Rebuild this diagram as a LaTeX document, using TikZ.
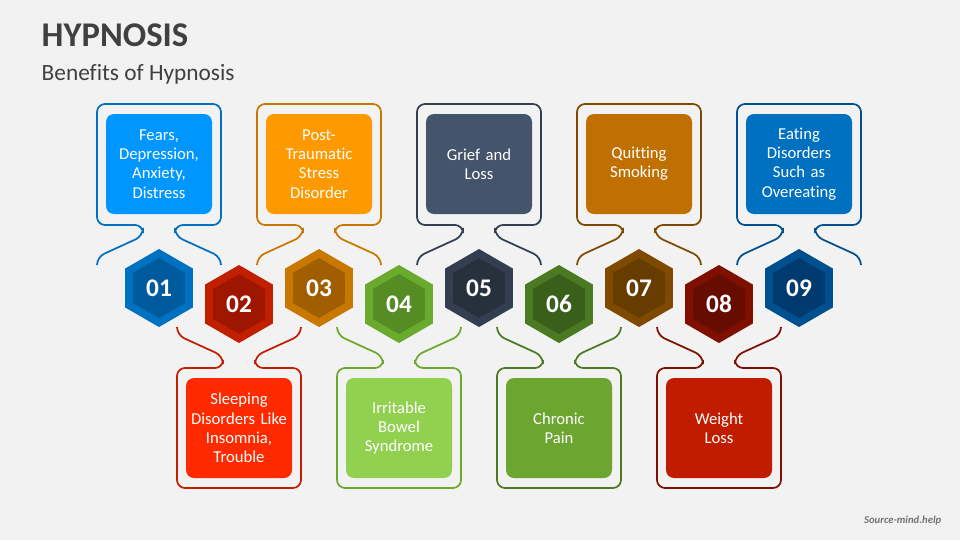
\documentclass[tikz,border=0pt]{standalone}
\usepackage{fontspec}
\setmainfont{Carlito}[Ligatures={NoCommon}]
\usetikzlibrary{shapes.geometric}
\definecolor{bg}{HTML}{F2F2F2}
\definecolor{o1}{HTML}{0070C0}\definecolor{i1}{HTML}{005A9E}\definecolor{b1}{HTML}{0096FF}
\definecolor{o2}{HTML}{C21E00}\definecolor{i2}{HTML}{9E1600}\definecolor{b2}{HTML}{FF2A00}
\definecolor{o3}{HTML}{C87800}\definecolor{i3}{HTML}{A05E00}\definecolor{b3}{HTML}{FF9900}
\definecolor{o4}{HTML}{6AAB2E}\definecolor{i4}{HTML}{558C24}\definecolor{b4}{HTML}{92D050}
\definecolor{o5}{HTML}{333F50}\definecolor{i5}{HTML}{27303D}\definecolor{b5}{HTML}{44546A}
\definecolor{o6}{HTML}{4B7A22}\definecolor{i6}{HTML}{3A5F1A}\definecolor{b6}{HTML}{6CA630}
\definecolor{o7}{HTML}{7F4A00}\definecolor{i7}{HTML}{663C00}\definecolor{b7}{HTML}{C07000}
\definecolor{o8}{HTML}{7F1000}\definecolor{i8}{HTML}{660C00}\definecolor{b8}{HTML}{C01C00}
\definecolor{o9}{HTML}{005090}\definecolor{i9}{HTML}{003A6E}\definecolor{b9}{HTML}{0070C0}
\tikzset{
 hexo/.style={regular polygon,regular polygon sides=6,shape border rotate=30,minimum size=58.5pt,inner sep=0pt},
 hexi/.style={regular polygon,regular polygon sides=6,shape border rotate=30,minimum size=45pt,inner sep=0pt,text=white,font=\bfseries\fontsize{19}{19}\selectfont},
 boxs/.style={rounded corners=6pt,minimum width=79.5pt,minimum height=75pt,text width=76pt,align=center,text=white,font=\fontsize{12.5}{14.5}\selectfont,inner sep=0pt},
 outl/.style={line width=1.3pt,rounded corners=6pt}
}
\begin{document}
\begin{tikzpicture}[x=0.75pt,y=-0.75pt]
\fill[bg] (0,0) rectangle (960,540);
\useasboundingbox (0,0) rectangle (960,540);
\node[anchor=west,text=black!75,font=\bfseries\fontsize{26}{26}\selectfont] (title) at (37,35) {HYPNOSIS};
\node[anchor=west,text=black!75,font=\fontsize{17.5}{17.5}\selectfont] (sub) at (37,74) {Benefits of Hypnosis};
\node[anchor=east,text=black!55,font=\bfseries\itshape\fontsize{8}{8}\selectfont] (src) at (946,521) {Source-mind.help};
\foreach \i/\t in {1/{Fears,\\Depression,\\Anxiety,\\Distress},3/{Post-\\Traumatic\\Stress\\Disorder},5/{Grief and\\Loss},7/{Quitting\\Smoking},9/{Eating\\Disorders\\Such as\\Overeating}}{
 \pgfmathsetmacro{\cx}{159+80*(\i-1)}
 \draw[outl,draw=o\i] (\cx-62,265) -- (\cx-62,257) -- (\cx-16,236) -- (\cx-16,225) -- (\cx-62,225) -- (\cx-62,104) -- (\cx+62,104) -- (\cx+62,225) -- (\cx+16,225) -- (\cx+16,236) -- (\cx+62,257) -- (\cx+62,265);
 \node[boxs,fill=b\i] (box\i) at (\cx,164) {\t};
 \node[hexo,fill=o\i] (ho\i) at (\cx,288) {};
 \node[hexi,fill=i\i] (hi\i) at (\cx,288) {0\i};
}
\foreach \i/\t in {2/{Sleeping\\Disorders Like\\Insomnia,\\Trouble},4/{Irritable\\Bowel\\Syndrome},6/{Chronic\\Pain},8/{Weight\\Loss}}{
 \pgfmathsetmacro{\cx}{159+80*(\i-1)}
 \draw[outl,draw=o\i] (\cx-62,327) -- (\cx-62,335) -- (\cx-16,356) -- (\cx-16,368) -- (\cx-62,368) -- (\cx-62,488) -- (\cx+62,488) -- (\cx+62,368) -- (\cx+16,368) -- (\cx+16,356) -- (\cx+62,335) -- (\cx+62,327);
 \node[boxs,fill=b\i] (box\i) at (\cx,428) {\t};
 \node[hexo,fill=o\i] (ho\i) at (\cx,304) {};
 \node[hexi,fill=i\i] (hi\i) at (\cx,304) {0\i};
}
\end{tikzpicture}
\end{document}
